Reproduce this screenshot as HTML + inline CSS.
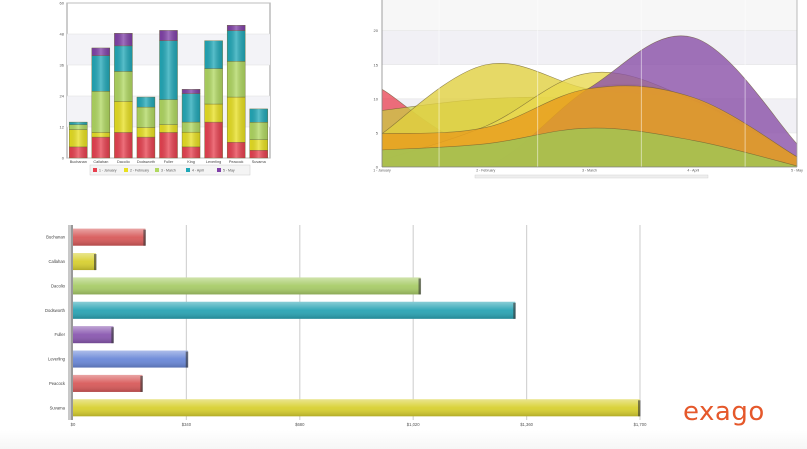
<!DOCTYPE html>
<html><head><meta charset="utf-8"><style>
html,body{margin:0;padding:0;background:#fff;width:807px;height:449px;overflow:hidden;font-family:"Liberation Sans",sans-serif}
svg{display:block}
</style></head><body>
<svg id="s" width="807" height="449" viewBox="0 0 807 449">
<defs>
<linearGradient id="bg" x1="0" y1="0" x2="0" y2="1"><stop offset="0" stop-color="#fff"/><stop offset="1" stop-color="#f6f6f6"/></linearGradient>
<linearGradient id="shine" x1="0" y1="0" x2="0" y2="1"><stop offset="0" stop-color="#fff" stop-opacity="0.45"/><stop offset="0.5" stop-color="#fff" stop-opacity="0.05"/><stop offset="1" stop-color="#000" stop-opacity="0.18"/></linearGradient>
<linearGradient id="vshine" x1="0" y1="0" x2="1" y2="0"><stop offset="0" stop-color="#000" stop-opacity="0.05"/><stop offset="0.5" stop-color="#fff" stop-opacity="0.25"/><stop offset="1" stop-color="#000" stop-opacity="0.12"/></linearGradient>
<clipPath id="c2clip"><rect x="382" y="0" width="415" height="167"/></clipPath>
</defs>
<rect x="0" y="430" width="807" height="19" fill="url(#bg)"/>
<g id="c1"></g>
<g id="c2"></g>
<g id="c3"></g>
<text x="683" y="420" font-size="26" fill="#e5582b" letter-spacing="0.5" font-family="DejaVu Sans, sans-serif">exago</text>
</svg>
<script>
var NS="http://www.w3.org/2000/svg";
function mk(p,t,a){var e=document.createElementNS(NS,t);for(var k in a)e.setAttribute(k,a[k]);p.appendChild(e);return e;}

/* ---- Chart 1: stacked columns ---- */
var c1Cats=["Buchanan","Callahan","Dacolio","Dodsworth","Fuller","King","Leverling","Peacock","Suvama"];
var c1Jan=[4.3,8.1,9.9,8.1,9.9,4.3,13.9,6.1,3];
var c1Feb=[6.7,1.8,12,3.7,3,5.7,7,17.5,4.1];
var c1Mar=[1.9,15.9,11.6,7.9,9.7,3.9,13.7,13.8,6.7];
var c1Apr=[1,13.8,9.9,3.9,22.8,11,10.8,11.9,5.2];
var c1May=[0,3,4.9,0,4,1.7,0,2.1,0];
var c1Ticks=[0,12,24,36,48,60];
var c1Legend=["1 - January","2 - February","3 - March","4 - April","5 - May"];
(function(){
 var g=document.getElementById('c1');
 var L=67,R=270,T=3,B=158,max=60;
 function y(v){return B-v/max*(B-T);}
 var bgR=mk(g,'rect',{x:L,y:T,width:R-L,height:B-T,fill:'#fff',stroke:'#999','stroke-width':1});
 
 c1Ticks.forEach(function(t,i){
  if(i%2==1){mk(g,'rect',{x:L,y:Math.max(T,y(t+12)),width:R-L,height:y(t)-Math.max(T,y(t+12)),fill:'#f3f3f7'});}
  mk(g,'line',{x1:L,x2:R,y1:y(t),y2:y(t),stroke:'#e0e0e0','stroke-width':0.6});
  var tx=mk(g,'text',{x:L-3,y:y(t)+1.5,'font-size':4,'text-anchor':'end',fill:'#555'});tx.textContent=t;
  
 });
 var series=[c1Jan,c1Feb,c1Mar,c1Apr,c1May];
 var cols=['#e8404f','#e8e020','#b0d860','#20a8b8','#8040a8'];
 var step=(R-L)/c1Cats.length,bw=18;
 c1Cats.forEach(function(c,i){
  var cx=L+step*(i+0.5),acc=0;
  series.forEach(function(s,j){
   var v=s[i];if(v<=0)return;
   var r=mk(g,'rect',{x:cx-bw/2,y:y(acc+v),width:bw,height:y(acc)-y(acc+v),fill:cols[j],stroke:'#6a6a30','stroke-width':0.4});
   
   mk(g,'rect',{x:cx-bw/2,y:y(acc+v),width:bw,height:y(acc)-y(acc+v),fill:'url(#vshine)'});
   acc+=v;
  });
  var tx=mk(g,'text',{x:cx,y:B+5,'font-size':3.8,'text-anchor':'middle',fill:'#444'});tx.textContent=c;
  
 });
 var lg=mk(g,'g',{});
 mk(lg,'rect',{x:90,y:165,width:160,height:10,fill:'#f4f4f4',stroke:'#ccc','stroke-width':0.5});
 c1Legend.forEach(function(n,j){
  var x=93+j*31;
  var it=mk(lg,'g',{});
  mk(it,'rect',{x:x,y:168,width:4,height:4,fill:cols[j]});
  var t=mk(it,'text',{x:x+6,y:171.5,'font-size':3.5,fill:'#555'});t.textContent=n;
 });
})();

/* ---- Chart 2: overlapping smooth areas ---- */
var c2Cats=["1 - January","2 - February","3 - March","4 - April","5 - May"];
var c2Ticks=[0,5,10,15,20];
var c2Red=[11.4,3,11.6,10,0.8];
var c2LightYellow=[8.3,10,10.2,9.7,1.5];
var c2YellowA=[4.9,15,11.4,9.5,1.2];
var c2YellowB=[1,6,13.8,9.8,1.5];
var c2Orange=[4.9,5.8,11.5,10.2,1.5];
var c2Purple=[0,0,11.6,19,3.4];
var c2Green=[2.5,3.4,5.7,3.9,0.15];
(function(){
 var g=document.getElementById('c2');
 var L=382,R=797,T=0,B=167,max=24.5;
 function x(i){return L+i*(R-L)/(c2Cats.length-1);}
 function y(v){return B-v/max*(B-T);}
 mk(g,'rect',{x:L,y:T,width:R-L,height:B-T,fill:'#fff'});
 mk(g,'rect',{x:L,y:y(20),width:R-L,height:y(15)-y(20),fill:'#f1f0f5'});
 mk(g,'rect',{x:L,y:y(10),width:R-L,height:y(5)-y(10),fill:'#f1f0f5'});
 mk(g,'rect',{x:L,y:0,width:R-L,height:y(20),fill:'#f7f7f7'});
 c2Ticks.forEach(function(t){
  mk(g,'line',{x1:L,x2:R,y1:y(t),y2:y(t),stroke:'#e4e4e4','stroke-width':0.6});
  var tx=mk(g,'text',{x:L-4,y:y(t)+1.5,'font-size':4,'text-anchor':'end',fill:'#555'});tx.textContent=t;
  
 });
 function path(s){
  var p=[];for(var i=0;i<s.length;i++)p.push([x(i),y(s[i])]);
  var d='M'+p[0][0]+','+p[0][1];
  for(var i=0;i<p.length-1;i++){
   var p0=p[i-1]||p[i],p1=p[i],p2=p[i+1],p3=p[i+2]||p2;
   var t=0.18;
   var c1x=p1[0]+(p2[0]-p0[0])*t,c1y=Math.min(B,p1[1]+(p2[1]-p0[1])*t);
   var c2x=p2[0]-(p3[0]-p1[0])*t,c2y=Math.min(B,p2[1]-(p3[1]-p1[1])*t);
   if(p1[1]>=B&&p2[1]>=B){c1y=B;c2y=B;}
   d+=' C'+c1x+','+c1y+' '+c2x+','+c2y+' '+p2[0]+','+p2[1];
  }
  return d+' L'+x(s.length-1)+','+B+' L'+L+','+B+' Z';
 }
 var ag=mk(g,'g',{'clip-path':'url(#c2clip)'});
 var S=[[c2Red,'#e84050',0.75,'area-red'],[c2LightYellow,'#c8d040',0.7,'area-light-yellow'],[c2YellowA,'#e0d040',0.8,'area-yellow-a'],[c2YellowB,'#e8d850',0.8,'area-yellow-b'],[c2Purple,'#8a50a8',0.8,'area-purple'],[c2Orange,'#e8a020',0.85,'area-orange'],[c2Green,'#a8c050',0.95,'area-green']];
 S.forEach(function(s){
  var e=mk(ag,'path',{d:path(s[0]),fill:s[1],'fill-opacity':s[2],stroke:'#6a5a30','stroke-width':0.6,'stroke-opacity':0.7});
  
 });
 [0.55,1.5,2.5,3.5].forEach(function(i){mk(g,'line',{x1:L+i*(R-L)/4,x2:L+i*(R-L)/4,y1:T,y2:B,stroke:'#fff','stroke-opacity':0.5,'stroke-width':1});});
 mk(g,'line',{x1:L,x2:L,y1:T,y2:B,stroke:'#888','stroke-width':0.8});
 mk(g,'line',{x1:R,x2:R,y1:T,y2:B,stroke:'#aaa','stroke-width':0.8});
 mk(g,'line',{x1:L,x2:R,y1:B,y2:B,stroke:'#888','stroke-width':0.8});
 c2Cats.forEach(function(c,i){
  var tx=mk(g,'text',{x:x(i),y:B+4.5,'font-size':3.5,'text-anchor':'middle',fill:'#555'});tx.textContent=c;
  
 });
 var lg=mk(g,'rect',{x:475,y:175,width:233,height:3,fill:'#eee',stroke:'#ccc','stroke-width':0.4});
 
})();

/* ---- Chart 3: horizontal bars ---- */
var c3Cats=["Buchanan","Callahan","Dacolio","Dodsworth","Fuller","Leverling","Peacock","Suvama"];
var c3Values=[217,69,1042,1326,121,344,208,1700];
var c3Ticks=[0,340,680,1020,1360,1700];
var c3TickLabels=["$0","$340","$680","$1,020","$1,360","$1,700"];
(function(){
 var g=document.getElementById('c3');
 var L=73,T=225,B=420,max=1700,W=640-73;
 function x(v){return L+v/max*W;}
 c3Ticks.forEach(function(t,i){
  if(i>0)mk(g,'line',{x1:x(t),x2:x(t),y1:T,y2:B,stroke:'#d4d4d4','stroke-width':1.2});
  var tx=mk(g,'text',{x:x(t),y:B+6,'font-size':4.2,'text-anchor':'middle',fill:'#555'});tx.textContent=c3TickLabels[i];
  
 });
 mk(g,'rect',{x:L-5,y:T,width:5,height:B-T,fill:'#c8c8c8'});
 mk(g,'rect',{x:L-2,y:T,width:2,height:B-T,fill:'#999'});
 var cols=['#d85a5a','#d8d030','#a8cc68','#2aa4b4','#8a58b0','#6a88d8','#d85a5a','#d8d030'];
 var step=(B-T)/c3Cats.length,bh=17;
 c3Cats.forEach(function(c,i){
  var cy=T+step*(i+0.5);
  var r=mk(g,'rect',{x:L,y:cy-bh/2,width:x(c3Values[i])-L,height:bh,fill:cols[i]});
  
  mk(g,'rect',{x:L,y:cy-bh/2,width:x(c3Values[i])-L,height:bh,fill:'url(#shine)'});
  mk(g,'rect',{x:x(c3Values[i])-2,y:cy-bh/2+1,width:2.5,height:bh-1,fill:'#333','fill-opacity':0.6});
  var tx=mk(g,'text',{x:L-8,y:cy+1.5,'font-size':4.2,'text-anchor':'end',fill:'#444'});tx.textContent=c;
  
 });
})();
</script>
</body></html>
